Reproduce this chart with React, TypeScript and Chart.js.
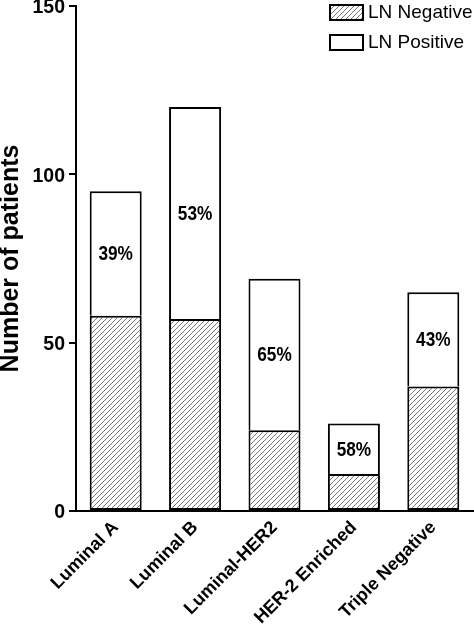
import React, { useEffect, useRef } from 'react';
import { Chart, registerables } from 'chart.js';

Chart.register(...registerables);

const categories = ['Luminal A', 'Luminal B', 'Luminal-HER2', 'HER-2 Enriched', 'Triple Negative'];
const lnNegative = [58, 57, 24, 11, 37];
const lnPositive = [37, 63, 45, 15, 28];
const percentLabels = ['39%', '53%', '65%', '58%', '43%'];
const seriesNames = ['LN Negative', 'LN Positive'];
const yTickValues = [0, 50, 100, 150];
const yTitle = 'Number of patients';

function makeHatch(): CanvasPattern | string {
  const c = document.createElement('canvas');
  const s = 5;
  c.width = s;
  c.height = s;
  const g = c.getContext('2d');
  if (!g) return '#ccc';
  g.fillStyle = '#fff';
  g.fillRect(0, 0, s, s);
  g.strokeStyle = '#555';
  g.lineWidth = 0.8;
  g.beginPath();
  g.moveTo(-1, s + 1);
  g.lineTo(s + 1, -1);
  g.moveTo(-1, 1);
  g.lineTo(1, -1);
  g.moveTo(s - 1, s + 1);
  g.lineTo(s + 1, s - 1);
  g.stroke();
  return g.createPattern(c, 'repeat') || '#ccc';
}

const percentPlugin = {
  id: 'percentLabels',
  afterDatasetsDraw(chart: any) {
    const meta = chart.getDatasetMeta(1);
    const ctx = chart.ctx;
    meta.data.forEach((el: any, i: number) => {
      ctx.save();
      ctx.fillStyle = '#000';
      ctx.font = 'bold 21px "Liberation Sans", Arial, sans-serif';
      ctx.textAlign = 'center';
      ctx.textBaseline = 'middle';
      ctx.translate(el.x, (el.y + el.base) / 2 + 1);
      ctx.scale(0.82, 1);
      ctx.fillText(percentLabels[i], 0, 0);
      ctx.restore();
    });
  },
};

const legendPlugin = {
  id: 'cornerLegend',
  afterDraw(chart: any) {
    const ctx = chart.ctx;
    const area = chart.chartArea;
    ctx.save();
    chart.data.datasets.forEach((ds: any, i: number) => {
      const bx = area.right - 143;
      const by = area.top - 1 + i * 30;
      ctx.fillStyle = ds.backgroundColor;
      ctx.fillRect(bx, by, 33, 15);
      ctx.strokeStyle = '#000';
      ctx.lineWidth = 2;
      ctx.strokeRect(bx, by, 33, 15);
      ctx.fillStyle = '#000';
      ctx.font = '19px "Liberation Sans", Arial, sans-serif';
      ctx.textAlign = 'left';
      ctx.textBaseline = 'middle';
      ctx.fillText(ds.label, bx + 38, by + 8);
    });
    ctx.restore();
  },
};

export default function App() {
  const ref = useRef<HTMLCanvasElement>(null);

  useEffect(() => {
    if (!ref.current) return;
    const hatch = makeHatch();
    const chart = new Chart(ref.current, {
      type: 'bar',
      data: {
        labels: categories,
        datasets: [
          {
            label: seriesNames[0],
            data: lnNegative,
            backgroundColor: hatch as any,
            borderColor: '#000',
            borderWidth: 2,
            borderSkipped: false,
            barPercentage: 0.655,
            categoryPercentage: 1,
          },
          {
            label: seriesNames[1],
            data: lnPositive,
            backgroundColor: '#fff',
            borderColor: '#000',
            borderWidth: 2,
            borderSkipped: 'bottom',
            barPercentage: 0.655,
            categoryPercentage: 1,
          },
        ],
      },
      options: {
        responsive: false,
        animation: false,
        maintainAspectRatio: false,
        layout: { padding: { top: 6, right: 1, left: 0, bottom: 0 } },
        plugins: {
          legend: { display: false },
          tooltip: { enabled: false },
        },
        scales: {
          x: {
            stacked: true,
            grid: { display: false, drawTicks: false },
            border: { display: true, color: '#000', width: 2 },
            ticks: {
              color: '#000',
              minRotation: 45,
              maxRotation: 45,
              padding: 6,
              font: { family: '"Liberation Sans", Arial, sans-serif', size: 18, weight: 'bold' },
            },
            afterFit(scale: any) {
              scale.height = 116;
              scale.paddingLeft = 0;
              scale.paddingRight = 0;
            },
          },
          y: {
            stacked: true,
            min: 0,
            max: 150,
            afterBuildTicks(scale: any) {
              scale.ticks = yTickValues.map((v) => ({ value: v }));
            },
            grid: {
              display: true,
              drawOnChartArea: false,
              drawTicks: true,
              tickLength: 7,
              color: '#000',
              lineWidth: 2,
            },
            border: { display: true, color: '#000', width: 2 },
            ticks: {
              color: '#000',
              padding: 4,
              labelOffset: 2,
              font: { family: '"Liberation Sans", Arial, sans-serif', size: 19.5, weight: 'bold' },
            },
            title: {
              display: true,
              text: yTitle,
              color: '#000',
              padding: { top: -4, bottom: 0 },
              font: { family: '"Liberation Sans", Arial, sans-serif', size: 25, weight: 'bold' },
            },
            afterFit(scale: any) {
              scale.width = 76;
              scale.paddingTop = 0;
              scale.paddingBottom = 0;
            },
          },
        },
      },
      plugins: [percentPlugin, legendPlugin],
    });
    return () => chart.destroy();
  }, []);

  return (
    <div style={{ position: 'fixed', left: 0, top: 0, width: 474, height: 627, background: '#fff' }}>
      <canvas ref={ref} width={474} height={627} style={{ width: 474, height: 627 }} />
    </div>
  );
}
